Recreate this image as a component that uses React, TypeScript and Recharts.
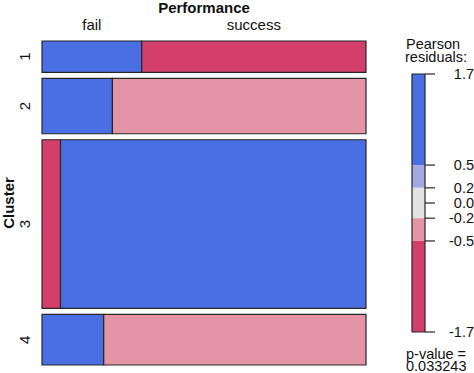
import React from 'react';
import { ComposedChart, XAxis, YAxis, ReferenceArea, Label, Scatter } from 'recharts';

// mosaic: Cluster x Performance, shaded by Pearson residuals
const clusters = ['1', '2', '3', '4'];
const performanceLevels = ['fail', 'success'];
const failCounts = [4, 5, 4, 4];
const successCounts = [9, 18, 66, 17];
const failResiduals = [1.7, 1.1, -1.7, 0.7];
const successResiduals = [-0.7, -0.4, 0.7, -0.3];

const legendTicks = [1.7, 0.5, 0.2, 0, -0.2, -0.5, -1.7];
const legendBreaks = [1.7, 0.5, 0.2, -0.2, -0.5, -1.7];
const legendColors = ['#4A6FE3', '#A0A9E2', '#E2E2E2', '#E495A5', '#D33F6A'];
const pValue = '0.033243';

const FONT = '"Liberation Sans", Arial, sans-serif';
const INK = '#111';
const BORDER = '#262626';
const ROW_GAP = 2.5;

let cursor = 0;
const rows = clusters.map((c, i) => {
  const n = failCounts[i] + successCounts[i];
  const row = { cluster: c, y1: cursor, y2: cursor + n, failShare: failCounts[i] / n };
  cursor += n + ROW_GAP;
  return row;
});
const yMax = cursor - ROW_GAP;
const rowMids = rows.map((r) => (r.y1 + r.y2) / 2);
const topMids = [rows[0].failShare / 2, (rows[0].failShare + 1) / 2];

// invisible anchors so each axis pair gets a domain
const mainCorners = [{ x: 0, y: 0 }, { x: 1, y: yMax }];
const legendCorners = [{ x: 0, y: -1.7 }, { x: 1, y: 1.7 }];

const shade = (r: number) => {
  for (let k = 0; k < legendColors.length; k++) {
    if (r >= legendBreaks[k + 1]) return legendColors[k];
  }
  return legendColors[legendColors.length - 1];
};

const nearest = (arr: number[], v: number) => {
  let best = 0;
  arr.forEach((m, i) => {
    if (Math.abs(m - v) < Math.abs(arr[best] - v)) best = i;
  });
  return best;
};

const TopTick = (props: any) => (
  <text x={props.x} y={30} textAnchor="middle" fontSize={15} fontFamily={FONT} fill={INK}>
    {performanceLevels[nearest(topMids, props.payload.value)]}
  </text>
);

const LeftTick = (props: any) => {
  const y = props.y;
  return (
    <text x={30} y={y} transform={`rotate(-90, 30, ${y})`} textAnchor="middle" fontSize={15} fontFamily={FONT} fill={INK}>
      {clusters[nearest(rowMids, props.payload.value)]}
    </text>
  );
};

const LegendTick = (props: any) => (
  <text x={474} y={props.y} dy="0.35em" textAnchor="end" fontSize={14.5} fontFamily={FONT} fill={INK}>
    {Number(props.payload.value).toFixed(1)}
  </text>
);

const noShape = () => <g />;

export default function App() {
  return (
    <div style={{ position: 'absolute', left: 0, top: 0, width: 474, height: 373, background: '#fff' }}>
      <div style={{ position: 'absolute', left: 0, top: 0 }}>
        <ComposedChart width={474} height={373} margin={{ top: 0, right: 108, bottom: 8, left: 0 }}>
          <XAxis
            xAxisId="x"
            dataKey="x"
            type="number"
            orientation="top"
            domain={[0, 1]}
            allowDataOverflow
            ticks={topMids}
            height={41}
            axisLine={false}
            tickLine={false}
            tick={<TopTick />}
            interval={0}
          >
            <Label
              content={(p: any) => {
                const vb = p.viewBox || { x: 42, y: 0, width: 324 };
                return (
                  <text x={vb.x + vb.width / 2} y={12.5} textAnchor="middle" fontSize={15} fontWeight="bold" fontFamily={FONT} fill={INK}>
                    Performance
                  </text>
                );
              }}
            />
          </XAxis>
          <YAxis
            yAxisId="y"
            dataKey="y"
            type="number"
            domain={[0, yMax]}
            allowDataOverflow
            reversed
            ticks={rowMids}
            width={42}
            axisLine={false}
            tickLine={false}
            tick={<LeftTick />}
            interval={0}
          >
            <Label
              content={(p: any) => {
                const vb = p.viewBox || { x: 0, y: 41, height: 324 };
                const cy = vb.y + vb.height / 2;
                return (
                  <text x={13.5} y={cy} transform={`rotate(-90, 13.5, ${cy})`} textAnchor="middle" fontSize={15} fontWeight="bold" fontFamily={FONT} fill={INK}>
                    Cluster
                  </text>
                );
              }}
            />
          </YAxis>
          <Scatter xAxisId="x" yAxisId="y" data={mainCorners} dataKey="y" shape={noShape} isAnimationActive={false} />
          {rows.map((r, i) => (
            <ReferenceArea
              key={`f${i}`}
              xAxisId="x"
              yAxisId="y"
              x1={0}
              x2={r.failShare}
              y1={r.y1}
              y2={r.y2}
              fill={shade(failResiduals[i])}
              fillOpacity={1}
              stroke={BORDER}
              strokeWidth={1.2}
              ifOverflow="visible"
            />
          ))}
          {rows.map((r, i) => (
            <ReferenceArea
              key={`s${i}`}
              xAxisId="x"
              yAxisId="y"
              x1={r.failShare}
              x2={1}
              y1={r.y1}
              y2={r.y2}
              fill={shade(successResiduals[i])}
              fillOpacity={1}
              stroke={BORDER}
              strokeWidth={1.2}
              ifOverflow="visible"
            />
          ))}
        </ComposedChart>
      </div>

      <div style={{ position: 'absolute', left: 0, top: 0 }}>
        <ComposedChart width={474} height={373} margin={{ top: 74, right: 0, bottom: 41, left: 412 }}>
          <XAxis xAxisId="lx" dataKey="x" type="number" domain={[0, 1]} allowDataOverflow hide />
          <YAxis
            yAxisId="ly"
            dataKey="y"
            type="number"
            orientation="right"
            domain={[-1.7, 1.7]}
            allowDataOverflow
            ticks={legendTicks}
            interval={0}
            width={49}
            axisLine={false}
            tickLine={{ stroke: BORDER, strokeWidth: 1.2 }}
            tickSize={10}
            tick={<LegendTick />}
          >
            <Label
              content={() => (
                <g fontFamily={FONT} fontSize={14.5} fill={INK}>
                  <text x={406} y={49}>Pearson</text>
                  <text x={405} y={61.5}>residuals:</text>
                  <text x={406} y={359}>p-value =</text>
                  <text x={406} y={371}>{pValue}</text>
                </g>
              )}
            />
          </YAxis>
          <Scatter xAxisId="lx" yAxisId="ly" data={legendCorners} dataKey="y" shape={noShape} isAnimationActive={false} />
          {legendColors.map((c, k) => (
            <ReferenceArea
              key={`b${k}`}
              xAxisId="lx"
              yAxisId="ly"
              x1={0}
              x2={1}
              y1={legendBreaks[k + 1]}
              y2={legendBreaks[k]}
              fill={c}
              fillOpacity={1}
              stroke="none"
              ifOverflow="visible"
            />
          ))}
          <ReferenceArea
            xAxisId="lx"
            yAxisId="ly"
            x1={0}
            x2={1}
            y1={-1.7}
            y2={1.7}
            fill="none"
            stroke={BORDER}
            strokeWidth={1.2}
            ifOverflow="visible"
          />
        </ComposedChart>
      </div>
    </div>
  );
}
